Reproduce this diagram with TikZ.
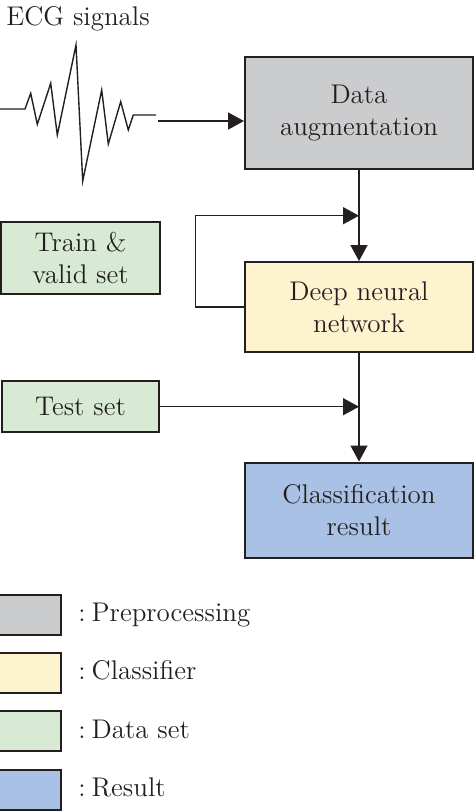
\documentclass[tikz,border=0pt]{standalone}
\usepackage{tikz}
\usetikzlibrary{arrows.meta,positioning}
\definecolor{prep}{HTML}{CBCCCE}
\definecolor{clsf}{HTML}{FDF3CF}
\definecolor{dset}{HTML}{D8EAD4}
\definecolor{rslt}{HTML}{A8C1E5}
\definecolor{ink}{HTML}{231F20}
\tikzset{block/.style={draw=ink, line width=1pt, rectangle, align=center, inner sep=0pt, text=ink, font=\fontsize{13.5}{16}\selectfont}, big/.style={block, minimum width=114pt}, key/.style={block, minimum width=31pt, minimum height=20pt}, lbl/.style={inner sep=0pt, text=ink, font=\fontsize{13.5}{16}\selectfont}, flow/.style={draw=ink, line width=0.75pt, -{Triangle[length=8pt,width=8.5pt]}}}

\begin{document}
\begin{tikzpicture}[x=0.5pt,y=-0.5pt]
    \useasboundingbox (0,0) rectangle (474,811);
    \node[lbl, anchor=base west] (T) at (6,25) {ECG signals};
    \draw[ink, line width=0.7pt] (0,109) -- (25,109) -- (30.7,93.3) -- (37.3,124.3) -- (50.7,83.3) -- (57.3,135) -- (76,45) -- (82.7,181) -- (101.7,90) -- (108.3,144) -- (120.7,101.7) -- (128.3,130) -- (133.3,115) -- (156,115);
    \coordinate (S) at (158,121);
    \node[big, fill=prep, minimum height=56pt] (DA) at (359,113) {Data\\augmentation};
    \node[big, fill=clsf, minimum height=45pt] (DNN) at (359,307) {Deep neural\\network};
    \node[big, fill=rslt, minimum height=47.5pt] (CR) at (359,510) {Classification\\result};
    \node[block, fill=dset, minimum width=79.5pt, minimum height=36pt] (TV) at (80.5,258) {Train \&\\valid set};
    \node[block, fill=dset, minimum width=78.5pt, minimum height=25.75pt] (TS) at (80.5,406.5) {Test set};
    \coordinate (J1) at (359,215.7);
    \coordinate (J2) at (359,406.7);
    \draw[flow] (S) -- (S -| DA.west);
    \draw[flow] (DA) -- (DNN);
    \draw[flow] (DNN.west) -- ++(-48.3,0) |- (J1);
    \draw[flow] (TS.east |- J2) -- (J2);
    \draw[flow] (DNN) -- (CR);
    \foreach \c/\t [count=\i] in {prep/Preprocessing,clsf/Classifier,dset/Data set,rslt/Result}{
        \node[key, fill=\c] (L\i) at (30,556.8+58.2*\i) {};
        \node[lbl, text height=9.2pt, text depth=2.6pt, right=8pt of L\i] (K\i) {:\hspace{3pt}\t};
    }
\end{tikzpicture}
\end{document}
